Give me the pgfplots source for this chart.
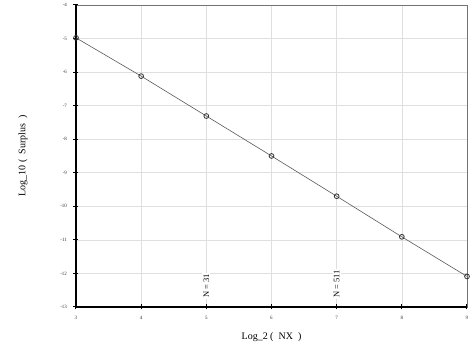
\documentclass[border=0pt]{standalone}
\usepackage{fontspec}
\setmainfont{Liberation Serif}
\usepackage{pgfplots}
\pgfplotsset{compat=1.18}
\begin{document}
\begin{tikzpicture}[x=1pt,y=1pt]
\path (-76,-44) rectangle (398,5);
\begin{axis}[
  at={(0,0)}, anchor=south west,
  scale only axis, width=391pt, height=302pt,
  xmin=3, xmax=9, ymin=-13, ymax=-4,
  xtick={3,4,5,6,7,8,9}, ytick={-13,-12,-11,-10,-9,-8,-7,-6,-5,-4},
  grid=major, grid style={gray!25, line width=0.5pt},
  axis line style={gray!90!black, line width=0.8pt},
  tick align=center, major tick length=5pt,
  major tick style={black, line width=1pt},
  xtick pos=bottom, ytick pos=left,
  ticklabel style={font=\fontsize{5}{6}\selectfont, text=black!80},
  /pgf/number format/assume math mode=true,
  xticklabel style={yshift=-3pt},
  yticklabel style={xshift=-3pt},
  xlabel={Log\_2 ( \ NX \ )},
  ylabel={Log\_10 ( \ Surplus \ )},
  label style={font=\fontsize{10}{12}\selectfont},
  xlabel style={yshift=-6pt},
  ylabel style={yshift=26pt},
  clip=false,
]
\draw[black, line width=1.2pt] (axis cs:3,-4) -- (axis cs:3,-13) -- (axis cs:9,-13);
\addplot[gray!70!black, line width=0.6pt, mark=o, mark size=2.4pt,
  mark options={black!80, line width=0.8pt}] coordinates {
  (3,-4.98) (4,-6.12) (5,-7.31) (6,-8.50) (7,-9.70) (8,-10.91) (9,-12.09)
};
\node[rotate=90, anchor=west, fill=white, inner sep=1pt,
  font=\fontsize{8.5}{9}\selectfont] at (axis cs:5,-13) [xshift=8pt] {N = 31};
\node[rotate=90, anchor=west, fill=white, inner sep=1pt,
  font=\fontsize{8.5}{9}\selectfont] at (axis cs:7,-13) [xshift=8pt] {N = 511};
\end{axis}
\end{tikzpicture}
\end{document}
